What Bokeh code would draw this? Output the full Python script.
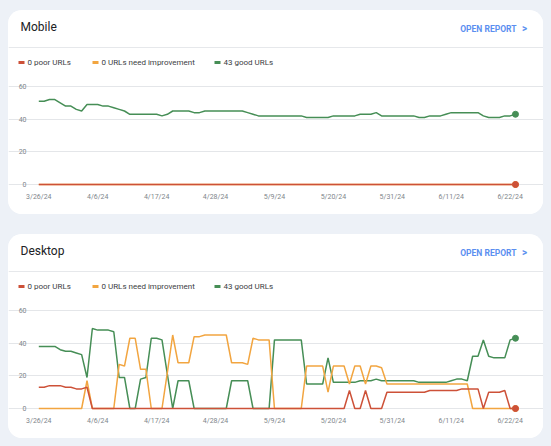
from bokeh.plotting import figure
from bokeh.models import FixedTicker, Label, Span, BoxAnnotation, Range1d
from bokeh.layouts import column
from bokeh.embed import file_html
from bokeh.resources import INLINE

# ---------------- data ----------------
tick_days = [0, 11, 22, 33, 44, 55, 66, 77, 88]
tick_labels = ["3/26/24", "4/6/24", "4/17/24", "4/28/24", "5/9/24",
               "5/20/24", "5/31/24", "6/11/24", "6/22/24"]
y_ticks = [0, 20, 40, 60]

mobile_good = [51, 51, 52, 52, 50, 48, 48, 46, 45, 49,
               49, 49, 48, 48, 47, 46, 45, 43, 43, 43,
               43, 43, 43, 42, 43, 45, 45, 45, 45, 44,
               44, 45, 45, 45, 45, 45, 45, 45, 45, 44,
               43, 42, 42, 42, 42, 42, 42, 42, 42, 42,
               41, 41, 41, 41, 41, 42, 42, 42, 42, 42,
               43, 43, 43, 44, 42, 42, 42, 42, 42, 42,
               42, 41, 41, 42, 42, 42, 43, 44, 44, 44,
               44, 44, 44, 42, 41, 41, 41, 42, 42, 43]
mobile_needs = [0, 0, 0, 0, 0, 0, 0, 0, 0, 0,
                0, 0, 0, 0, 0, 0, 0, 0, 0, 0,
                0, 0, 0, 0, 0, 0, 0, 0, 0, 0,
                0, 0, 0, 0, 0, 0, 0, 0, 0, 0,
                0, 0, 0, 0, 0, 0, 0, 0, 0, 0,
                0, 0, 0, 0, 0, 0, 0, 0, 0, 0,
                0, 0, 0, 0, 0, 0, 0, 0, 0, 0,
                0, 0, 0, 0, 0, 0, 0, 0, 0, 0,
                0, 0, 0, 0, 0, 0, 0, 0, 0, 0]
mobile_poor = [0, 0, 0, 0, 0, 0, 0, 0, 0, 0,
               0, 0, 0, 0, 0, 0, 0, 0, 0, 0,
               0, 0, 0, 0, 0, 0, 0, 0, 0, 0,
               0, 0, 0, 0, 0, 0, 0, 0, 0, 0,
               0, 0, 0, 0, 0, 0, 0, 0, 0, 0,
               0, 0, 0, 0, 0, 0, 0, 0, 0, 0,
               0, 0, 0, 0, 0, 0, 0, 0, 0, 0,
               0, 0, 0, 0, 0, 0, 0, 0, 0, 0,
               0, 0, 0, 0, 0, 0, 0, 0, 0, 0]

desktop_good = [38, 38, 38, 38, 36, 35, 35, 34, 33, 19,
                49, 48, 48, 48, 47, 19, 19, 0, 0, 18,
                19, 43, 43, 42, 21, 0, 17, 17, 17, 0,
                0, 0, 0, 0, 0, 0, 17, 17, 17, 17,
                0, 0, 0, 0, 42, 42, 42, 42, 42, 42,
                15, 15, 15, 15, 31, 16, 16, 16, 16, 16,
                17, 17, 17, 18, 17, 17, 17, 17, 17, 17,
                17, 16, 16, 16, 16, 16, 16, 17, 18, 18,
                17, 32, 32, 42, 32, 31, 31, 31, 42, 43]
desktop_needs = [0, 0, 0, 0, 0, 0, 0, 0, 0, 17,
                 0, 0, 0, 0, 0, 27, 26, 43, 43, 24,
                 24, 0, 0, 0, 22, 45, 28, 28, 28, 44,
                 44, 45, 45, 45, 45, 45, 28, 28, 28, 27,
                 43, 42, 42, 42, 0, 0, 0, 0, 0, 0,
                 26, 26, 26, 26, 10, 26, 26, 26, 15, 26,
                 26, 15, 26, 26, 25, 15, 15, 15, 15, 15,
                 15, 15, 15, 15, 15, 15, 15, 15, 15, 15,
                 15, 0, 0, 0, 0, 0, 0, 0, 0, 0]
desktop_poor = [13, 13, 14, 14, 14, 13, 13, 12, 12, 13,
                0, 0, 0, 0, 0, 0, 0, 0, 0, 0,
                0, 0, 0, 0, 0, 0, 0, 0, 0, 0,
                0, 0, 0, 0, 0, 0, 0, 0, 0, 0,
                0, 0, 0, 0, 0, 0, 0, 0, 0, 0,
                0, 0, 0, 0, 0, 0, 0, 0, 11, 0,
                0, 11, 0, 0, 0, 10, 10, 10, 10, 10,
                10, 10, 10, 11, 11, 11, 11, 11, 11, 12,
                12, 12, 12, 0, 10, 10, 10, 11, 0, 0]

# ---------------- styles / layout ----------------
POOR = "#cd5138"
NEEDS = "#f2a540"
GOOD = "#468e56"
FONT = "Roboto"
BG = "#edf1f7"
W, H = 535, 204              # card size (frame covers the whole card)
X0, PXD = 30.3, 5.356        # card px of first day, px per day
Y0, PXV = 174.0, 98.0 / 60   # card px (from top) of value 0, px per unit
PLOT_L, PLOT_R, PLOT_B = 24, 514, 178   # plot-area edges in card px

# legend layout (x of dash start, x of text start) in card pixels
LEG_POS = [(10, 19), (84, 93), (206, 215)]


def make_card(title, good, needs, poor):
    p = figure(frame_width=W, frame_height=H, output_backend="svg",
               toolbar_location=None,
               x_range=Range1d(-X0 / PXD, (W - X0) / PXD),
               y_range=Range1d(-(H - Y0) / PXV, Y0 / PXV),
               min_border=0, min_border_left=0, min_border_right=0,
               min_border_top=0, min_border_bottom=0,
               background_fill_color="white", border_fill_color="white",
               outline_line_color=None)

    x = list(range(len(good)))
    p.line(x, good, color=GOOD, line_width=1.5)
    p.line(x, needs, color=NEEDS, line_width=1.5)
    p.line(x, poor, color=POOR, line_width=1.5)
    p.scatter([x[-1]], [needs[-1]], size=6, color=NEEDS)
    p.scatter([x[-1]], [good[-1]], size=6, color=GOOD)
    p.scatter([x[-1]], [poor[-1]], size=6, color=POOR)

    # axes drawn at fixed positions inside the card
    p.xaxis.ticker = FixedTicker(ticks=tick_days)
    p.xaxis.major_label_overrides = {d: l for d, l in zip(tick_days, tick_labels)}
    p.yaxis.ticker = FixedTicker(ticks=y_ticks)
    p.xaxis.fixed_location = (Y0 - PLOT_B) / PXV
    p.yaxis.fixed_location = (PLOT_L - X0) / PXD
    for ax in (p.xaxis, p.yaxis):
        ax.axis_line_color = None
        ax.major_tick_line_color = None
        ax.minor_tick_line_color = None
        ax.major_tick_out = 0
        ax.major_tick_in = 0
        ax.minor_tick_out = 0
        ax.major_label_text_font = FONT
        ax.major_label_text_font_size = "7px"
        ax.major_label_text_color = "#80868b"
    p.xaxis.major_label_standoff = 4
    p.yaxis.major_label_standoff = 6
    p.xgrid.visible = False
    p.ygrid.ticker = FixedTicker(ticks=y_ticks)
    p.ygrid.bounds = ((PLOT_L - X0) / PXD, (PLOT_R - X0) / PXD)
    p.ygrid.grid_line_color = "#e4e6e9"
    p.ygrid.grid_line_width = 1

    # header (screen units: x from card left, y from card bottom)
    p.add_layout(Label(x=12, y=H - 16, x_units="screen", y_units="screen",
                       text=title, text_font=FONT, text_font_size="12px",
                       text_color="#202124", text_baseline="middle", text_align="left"))
    p.add_layout(Label(x=508, y=H - 18, x_units="screen", y_units="screen",
                       text="OPEN REPORT", text_font=FONT, text_font_size="8.5px",
                       text_font_style="bold", text_color="#5b8ff0",
                       text_baseline="middle", text_align="right"))
    p.add_layout(Label(x=516, y=H - 18, x_units="screen", y_units="screen",
                       text=">", text_font=FONT, text_font_size="10px",
                       text_font_style="bold", text_color="#5b8ff0",
                       text_baseline="middle", text_align="center"))
    p.add_layout(Span(location=H - 37, location_units="screen", dimension="width",
                      line_color="#e6e8eb", line_width=1))

    labels = [f"{poor[-1]} poor URLs", f"{needs[-1]} URLs need improvement",
              f"{good[-1]} good URLs"]
    for (gx, tx), lab, col in zip(LEG_POS, labels, [POOR, NEEDS, GOOD]):
        p.add_layout(BoxAnnotation(left=gx, right=gx + 6, top=H - 50.5, bottom=H - 53.5,
                                   left_units="screen", right_units="screen",
                                   top_units="screen", bottom_units="screen",
                                   fill_color=col, fill_alpha=1, line_color=None))
        p.add_layout(Label(x=tx, y=H - 52, x_units="screen", y_units="screen",
                           text=lab, text_font=FONT, text_font_size="8px",
                           text_color="#3c4043", text_baseline="middle",
                           text_align="left"))
    return column(p, styles={"background-color": "white", "border-radius": "14px",
                             "overflow": "hidden"})


card1 = make_card("Mobile", mobile_good, mobile_needs, mobile_poor)
card2 = make_card("Desktop", desktop_good, desktop_needs, desktop_poor)
layout = column(card1, card2, spacing=20, margin=(10, 0, 0, 8))

html = file_html(layout, INLINE)
html = html.replace("</head>",
                    "<style>html, body { background-color: %s !important; }</style></head>" % BG, 1)
open("out.html", "w").write(html)
